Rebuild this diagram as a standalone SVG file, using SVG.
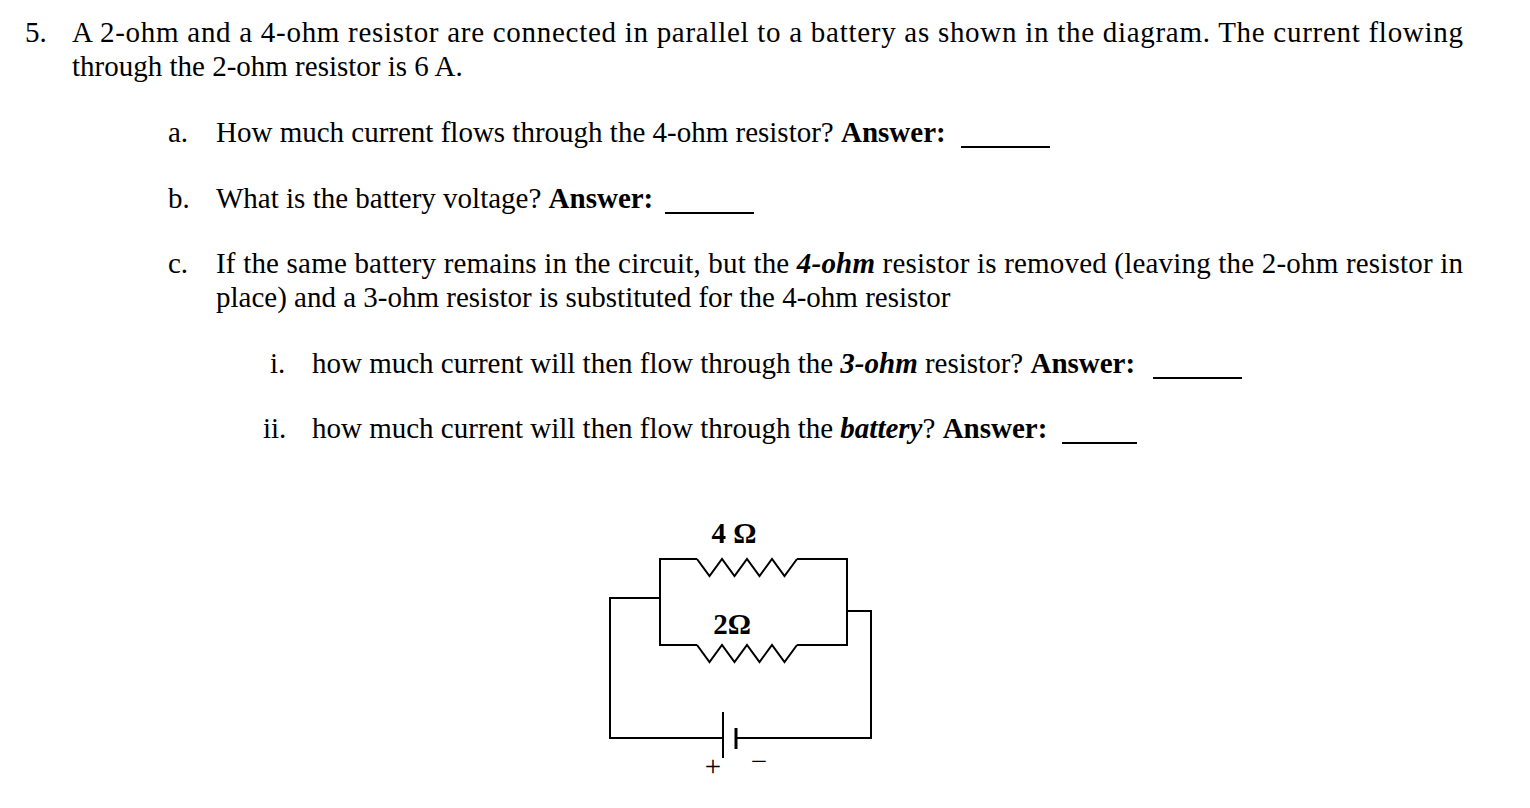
<svg xmlns="http://www.w3.org/2000/svg" width="1530" height="808" viewBox="0 0 1530 808">
<style>
text{font-family:"Liberation Serif","Times New Roman",serif;font-size:29px;fill:#000}
.b{font-weight:bold}
.bi{font-weight:bold;font-style:italic}
.w{fill:none;stroke:#000;stroke-width:2}
</style>
<rect width="1530" height="808" fill="#fff"/>
<g id="question">
<text x="25" y="42">5.</text>
<text x="72" y="42" textLength="1391" lengthAdjust="spacing">A 2-ohm and a 4-ohm resistor are connected in parallel to a battery as shown in the diagram. The current flowing</text>
<text x="72" y="76">through the 2-ohm resistor is 6 A.</text>
<text x="168" y="142">a.</text>
<text x="216" y="142">How much current flows through the 4-ohm resistor? <tspan class="b">Answer:</tspan></text>
<line x1="961" y1="147" x2="1050" y2="147" stroke="#000" stroke-width="2"/>
<text x="168" y="208">b.</text>
<text x="216" y="208">What is the battery voltage? <tspan class="b">Answer:</tspan></text>
<line x1="665" y1="213" x2="754" y2="213" stroke="#000" stroke-width="2"/>
<text x="168" y="273">c.</text>
<text x="216" y="273" textLength="1247" lengthAdjust="spacing">If the same battery remains in the circuit, but the <tspan class="bi">4-ohm</tspan> resistor is removed (leaving the 2-ohm resistor in</text>
<text x="216" y="307">place) and a 3-ohm resistor is substituted for the 4-ohm resistor</text>
<text x="270" y="373">i.</text>
<text x="312" y="373">how much current will then flow through the <tspan class="bi">3-ohm</tspan> resistor? <tspan class="b">Answer:</tspan></text>
<line x1="1153" y1="378" x2="1242" y2="378" stroke="#000" stroke-width="2"/>
<text x="263" y="438">ii.</text>
<text x="312" y="438">how much current will then flow through the <tspan class="bi">battery</tspan>? <tspan class="b">Answer:</tspan></text>
<line x1="1062" y1="443" x2="1137" y2="443" stroke="#000" stroke-width="2"/>
</g>
<g id="wires">
<polyline class="w" points="660,598 610,598 610,738 723,738"/>
<polyline class="w" points="736,738 871,738 871,611 847,611"/>
<polyline class="w" points="697,559 660,559 660,645 697,645"/>
<polyline class="w" points="797,559 847,559 847,645 797,645"/>
</g>
<g id="r4">
<polyline class="w" points="697,559 709.5,576 722,559 734.5,576 747,559 759.5,576 772,559 784.5,576 797,559"/>
<text class="b" x="734" y="543" text-anchor="middle" font-size="25">4 Ω</text>
</g>
<g id="r2">
<polyline class="w" points="697,645 709.5,662 722,645 734.5,662 747,645 759.5,662 772,645 784.5,662 797,645"/>
<text class="b" x="732" y="634" text-anchor="middle" font-size="25">2Ω</text>
</g>
<g id="battery">
<line x1="723" y1="712" x2="723" y2="758" stroke="#000" stroke-width="2"/>
<line x1="736" y1="728" x2="736" y2="749" stroke="#000" stroke-width="3"/>
<text x="713" y="776" text-anchor="middle" font-size="28">+</text>
<text x="759" y="771" text-anchor="middle" font-size="28">−</text>
</g>
</svg>
